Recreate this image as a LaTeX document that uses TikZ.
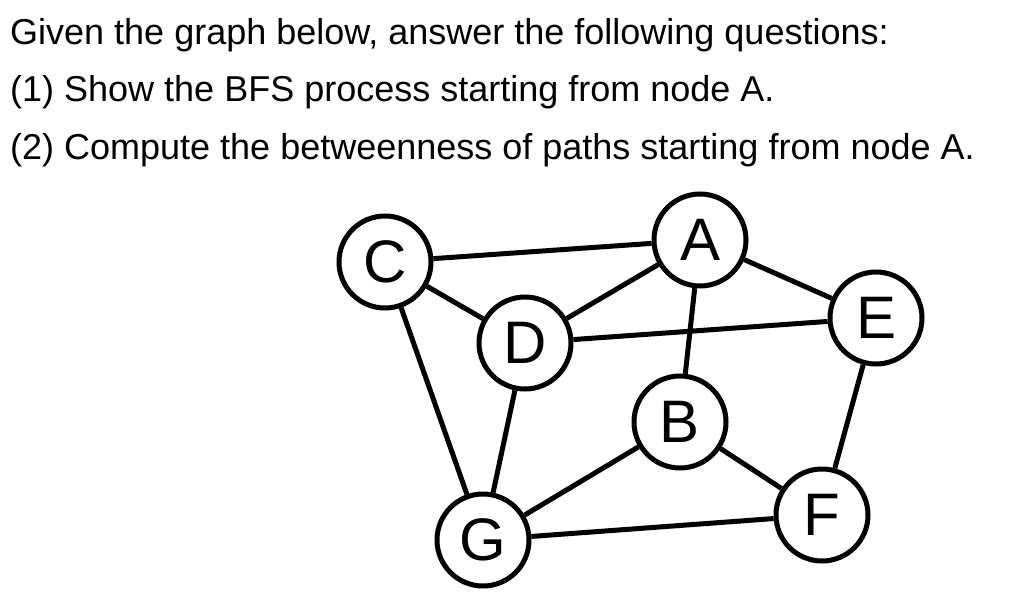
\documentclass[tikz,border=0pt]{standalone}
\usepackage{fontspec}
\setmainfont{Liberation Sans}
\begin{document}
\begin{tikzpicture}[x=1pt,y=-1pt,
  vert/.style={circle,draw,line width=5pt,minimum size=92pt,inner sep=0pt,font=\fontsize{60}{60}\selectfont},
  edge/.style={line width=5pt},
  txt/.style={anchor=west,inner sep=0pt,font=\fontsize{36}{42}\selectfont}]
\useasboundingbox (0,0) rectangle (1030,604);
\node[txt] (t1) at (10,35) {Given the graph below, answer the following questions:};
\node[txt] (t2) at (10,92) {(1) Show the BFS process starting from node A.};
\node[txt] (t3) at (10,150) {(2) Compute the betweenness of paths starting from node A.};
\node[vert] (C) at (385,262) {C};
\node[vert] (A) at (700,240) {A};
\node[vert] (D) at (525,343) {D};
\node[vert] (E) at (876,318) {E};
\node[vert] (B) at (680,422) {B};
\node[vert] (F) at (822,515) {F};
\node[vert] (G) at (483,540) {G};
\foreach \a/\b in {C/A,C/D,C/G,A/D,A/E,A/B,D/E,D/G,B/G,B/F,E/F,G/F}
  \draw[edge] (\a) -- (\b);
\end{tikzpicture}
\end{document}
